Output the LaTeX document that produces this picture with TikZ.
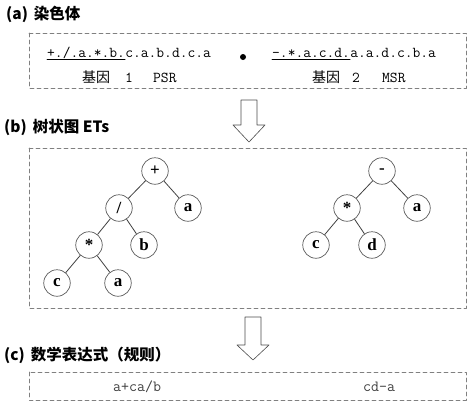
\documentclass[tikz,border=0pt]{standalone}
\usepackage{fontspec}
\setmainfont{Liberation Serif}
\newfontfamily\cjk{Noto Sans CJK SC}
\usetikzlibrary{positioning}

\newcommand{\hollowarrow}[4]{% centre x, top, head base, tip
  \draw[hollow] (#1-8,#2) -- (#1+8,#2) -- (#1+8,#3) -- (#1+16,#3)
    -- (#1,#4) -- (#1-16,#3) -- (#1-8,#3) -- cycle;}

\begin{document}
\begin{tikzpicture}[x=1pt,y=-1pt,line cap=round,line join=round]
\useasboundingbox (0,0) rectangle (474,408);
\tikzset{
  title/.style={anchor=west,inner sep=0pt,font=\cjk\bfseries\fontsize{15.5}{15}\selectfont},
  dashbox/.style={draw=black!50,dash pattern=on 4pt off 3pt,line width=0.6pt},
  gene/.style={inner sep=0pt,anchor=base west,font=\ttfamily\fontsize{15.1}{15}\selectfont},
  genelab/.style={inner sep=0pt,anchor=base west,font=\cjk\fontsize{14}{14}\selectfont},
  expr/.style={inner sep=0pt,anchor=base west,text=black!75,font=\ttfamily\fontsize{15.5}{15}\selectfont},
  tnode/.style={circle,draw=black!65,line width=0.7pt,minimum size=26.5pt,inner sep=0pt,
    font=\bfseries\fontsize{17}{17}\selectfont},
  tedge/.style={draw=black!75,line width=0.8pt},
  hollow/.style={draw=black!70,line width=0.6pt,fill=white},
}

% titles
\node[title] (ta) at (6,14) {(a)\hspace{6pt}染色体};
\node[title] (tb) at (4,127) {(b)\hspace{6pt}树状图 ETs};
\node[title] (tc) at (4,355) {(c)\hspace{6pt}数学表达式（规则）};

% dashed boxes
\draw[dashbox] (29,33) rectangle (466,88);
\draw[dashbox] (29,148) rectangle (466,308);
\draw[dashbox] (29,372) rectangle (466,400);

% chromosome: two genes
\node[gene] (g1u) at (47,57) {+./.a.*.b.};
\node[gene] (g1r) at (g1u.base east) {c.a.b.d.c.a};
\node[gene] (g2u) at (272,57) {-.*.a.c.d.};
\node[gene] (g2r) at (g2u.base east) {a.a.d.c.b.a};
\draw[line width=0.6pt] ([yshift=-2.5pt]g1u.base west) -- ([yshift=-2.5pt]g1u.base east);
\draw[line width=0.6pt] ([yshift=-2.5pt]g2u.base west) -- ([yshift=-2.5pt]g2u.base east);
\fill (243,57) circle (3pt);

% gene labels
\node[genelab] (l1) at (82,82) {基因};
\node[gene] (n1) at (125,82) {1};
\node[gene] (p1) at (153,82) {PSR};
\node[genelab] (l2) at (312,82) {基因};
\node[gene] (n2) at (352,82) {2};
\node[gene] (p2) at (382,82) {MSR};

% arrows between the stages
\hollowarrow{249}{100}{125}{142}
\hollowarrow{253}{317}{345}{360}

% expression tree 1
\node[tnode] (p) at (155,171) {+};
\node[tnode] (q) at (119,208) {/};
\node[tnode] (qa) at (188,208) {a};
\node[tnode] (s) at (89,245) {*};
\node[tnode] (sb) at (144,245) {b};
\node[tnode] (sc) at (57,283) {c};
\node[tnode] (sa) at (118,283) {a};
\draw[tedge] (p) -- (q);
\draw[tedge] (p) -- (qa);
\draw[tedge] (q) -- (s);
\draw[tedge] (q) -- (sb);
\draw[tedge] (s) -- (sc);
\draw[tedge] (s) -- (sa);

% expression tree 2
\node[tnode] (m) at (382,171) {-};
\node[tnode] (t) at (347,208) {*};
\node[tnode] (ma) at (417,208) {a};
\node[tnode] (tc) at (316,245) {c};
\node[tnode] (td) at (372,245) {d};
\draw[tedge] (m) -- (t);
\draw[tedge] (m) -- (ma);
\draw[tedge] (t) -- (tc);
\draw[tedge] (t) -- (td);

% expressions
\node[expr] (e1) at (113,391) {a+ca/b};
\node[expr] (e2) at (363,391) {cd-a};

\end{tikzpicture}
\end{document}
